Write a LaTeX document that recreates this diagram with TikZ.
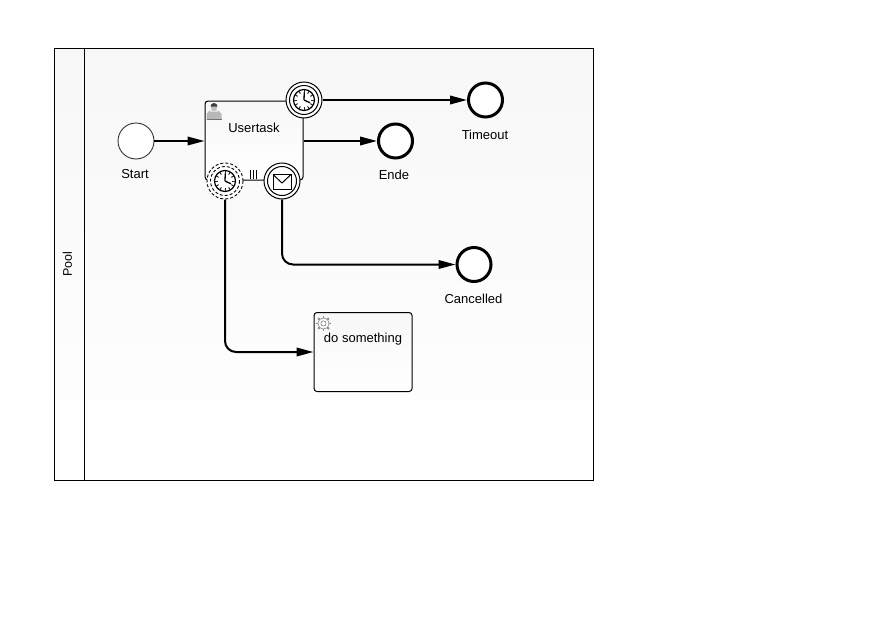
\documentclass[tikz,border=0pt]{standalone}
\usepackage{fontspec}
\setmainfont{Liberation Sans}
\usetikzlibrary{arrows.meta,positioning}
\tikzset{
  every node/.style={font=\fontsize{13}{15}\selectfont,inner sep=0pt},
  flow/.style={line width=2pt,rounded corners=11pt,-{Triangle[length=17pt,width=8.5pt]}},
  startev/.style={circle,draw=black!80,line width=0.9pt,minimum size=36pt,fill=white},
  endev/.style={circle,draw=black,line width=3pt,minimum size=34pt,fill=white},
  boundev/.style={circle,draw=black,line width=1pt,minimum size=36pt,fill=white},
  taskbox/.style={draw=black,line width=1pt,rounded corners=3pt,minimum width=98pt,minimum height=79pt,top color=black!3,bottom color=white},
  lbl/.style={text=black}
}
\newcommand{\clockicon}[1]{%
  \begin{scope}[shift={(#1)}]
    \draw[line width=1.2pt,fill=white] (0,0) circle (10.5);
    \foreach \a in {0,30,...,330}
      \draw[line width=1pt,black!85] (\a:7.3) -- (\a:10);
    \draw[line width=1.3pt] (0,0) -- (272:7.5);
    \draw[line width=1.3pt] (0,0) -- (25:6.5);
  \end{scope}}
\begin{document}
\begin{tikzpicture}[x=1pt,y=-1pt]
\useasboundingbox (0,0) rectangle (891,637);
\fill[white] (0,0) rectangle (891,637);
% pool
\path[top color=black!3,bottom color=white] (54.5,48.5) rectangle (593.5,480.5);
\draw[line width=0.9pt] (54.5,48.5) rectangle (593.5,480.5);
\draw[line width=0.9pt] (84.5,48.5) -- (84.5,480.5);
\node[lbl,rotate=90] (pool) at (67.5,264) {\fontsize{12.5}{14}\selectfont Pool};
% events and tasks
\node[startev] (start) at (136,141) {};
\node[lbl] (startl) at (135,174.5) {Start};
\node[taskbox] (task) at (254,140.5) {};
\node[lbl] (taskl) at (254,127.5) {Usertask};
\node[endev] (ende) at (395.5,141) {};
\node[lbl] (endel) at (394,174.5) {Ende};
\node[endev] (timeout) at (485.5,100) {};
\node[lbl] (timeoutl) at (485,135) {Timeout};
\node[endev] (canc) at (474,264.5) {};
\node[lbl] (cancl) at (473.5,298.5) {Cancelled};
\node[taskbox] (some) at (363,352) {};
\node[lbl] (somel) at (363,339.5) {do something};
% boundary events
\node[boundev] (btimer) at (304,100) {};
\draw[line width=1pt] (btimer) circle (14.5);
\clockicon{304,100}
\node[boundev,draw=none] (ctimer) at (225,181) {};
\draw[line width=0.9pt,densely dashed] (ctimer) circle (18);
\draw[line width=0.9pt,densely dashed] (ctimer) circle (14.5);
\clockicon{225,181}
\node[boundev] (msg) at (282,181) {};
\draw[line width=1pt] (msg) circle (14.5);
\draw[line width=1pt,fill=white] (273,174.5) rectangle (291,189);
\draw[line width=1pt] (273,174.5) -- (282,183) -- (291,174.5);
% multi-instance marker
\draw[line width=1pt] (250.5,170) -- (250.5,178.5) (253.5,170) -- (253.5,178.5) (256.5,170) -- (256.5,178.5);
% user icon
\fill[black!28] (206.5,119) -- (206.5,114) .. controls (207,111) and (210,111.5) .. (211,110) -- (217,110) .. controls (218,111.5) and (221,111) .. (221.5,114) -- (221.5,119) -- cycle;
\fill[black!12] (210,110) rectangle (218,112);
\fill[black!25] (214,108) circle (3);
\fill[black!75] (210.5,106.5) arc (180:360:3.5) -- cycle;
\draw[black!55,line width=0.4pt] (206.5,119) -- (221.5,119);
% gear icon
\begin{scope}[shift={(323.5,323.5)}]
  \foreach \a in {0,45,...,315}
    \draw[black!45,line width=1.8pt] (\a:5) -- (\a:7.6);
  \draw[black!45,fill=white,line width=0.7pt] (0,0) circle (5.6);
  \draw[black!45,fill=white,line width=0.7pt] (0,0) circle (2.6);
\end{scope}
% connectors
\draw[flow] (start) -- (task.west |- start);
\draw[flow] (task.east |- ende) -- (ende);
\draw[flow] (btimer) -- (timeout);
\draw[flow] (ctimer.south) |- (some.west);
\draw[flow] (msg.south) |- (canc.west);
\end{tikzpicture}
\end{document}
